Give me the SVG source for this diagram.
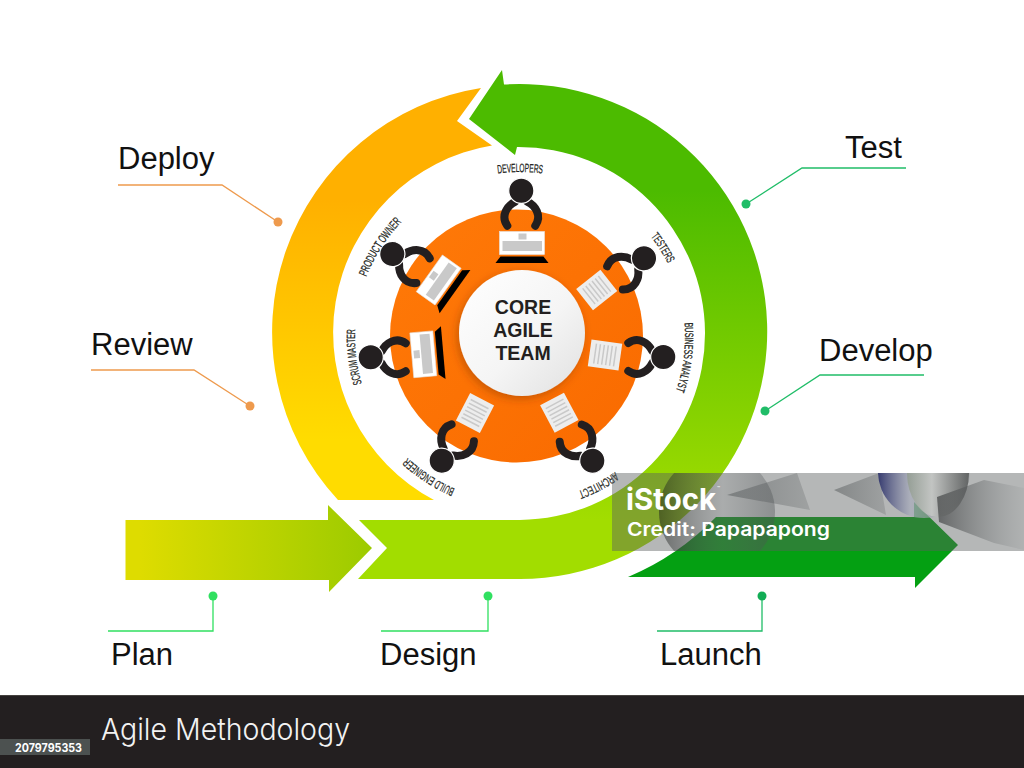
<svg xmlns="http://www.w3.org/2000/svg" width="1024" height="768" viewBox="0 0 1024 768">
<style>
.lbl{font-family:"Liberation Sans",Arial,sans-serif;font-size:31px;fill:#111}
.role{font-family:"Liberation Sans Narrow","Liberation Sans",Arial,sans-serif;font-size:12px;fill:#231f20;stroke:#231f20;stroke-width:.25}
.core{font-family:"Liberation Sans",Arial,sans-serif;font-weight:700;font-size:19.5px;fill:#231f20;text-anchor:middle}
.org{stroke:#ee9a4d;fill:none;stroke-width:1.3}
.grn{stroke:#20bd68;fill:none;stroke-width:1.3}
.lime{stroke:#30e060;fill:none;stroke-width:1.3}
.arm{fill:none;stroke:#231f20;stroke-width:8;stroke-linecap:round}
.ln{stroke:#c9c9c9;stroke-width:1.5}
</style>
<defs>
<linearGradient id="gGreen" gradientUnits="userSpaceOnUse" x1="0" y1="190" x2="0" y2="520"><stop offset="0" stop-color="#4cbb00"/><stop offset="1" stop-color="#a2dd00"/></linearGradient>
<linearGradient id="gYellow" gradientUnits="userSpaceOnUse" x1="0" y1="200" x2="0" y2="440"><stop offset="0" stop-color="#ffb000"/><stop offset="1" stop-color="#ffdc00"/></linearGradient>
<linearGradient id="gPlan" gradientUnits="userSpaceOnUse" x1="140" y1="0" x2="372" y2="0"><stop offset="0" stop-color="#dedc00"/><stop offset="1" stop-color="#9ccb00"/></linearGradient>
<linearGradient id="gCore" x1="0" y1="0" x2="1" y2="1"><stop offset="0" stop-color="#ffffff"/><stop offset="0.55" stop-color="#f5f5f5"/><stop offset="1" stop-color="#e0e0e0"/></linearGradient>
<linearGradient id="gDisc" x1="0" y1="0" x2="1" y2="1"><stop offset="0" stop-color="#ff7a08"/><stop offset="1" stop-color="#f96a00"/></linearGradient>
<linearGradient id="gWmL"><stop offset="0" stop-color="#1c1f1c" stop-opacity=".5"/><stop offset=".55" stop-color="#5a5e60" stop-opacity=".12"/><stop offset="1" stop-color="#4a4e50" stop-opacity=".38"/></linearGradient>
<linearGradient id="gBlue"><stop offset="0" stop-color="#30356c" stop-opacity=".95"/><stop offset=".35" stop-color="#a8acbc" stop-opacity=".7"/><stop offset="1" stop-color="#9a9ea0" stop-opacity=".4"/></linearGradient>
<linearGradient id="gSph"><stop offset="0" stop-color="#8f9a8c"/><stop offset=".4" stop-color="#c8cac6"/><stop offset="1" stop-color="#505252"/></linearGradient>
<linearGradient id="gPoly"><stop offset="0" stop-color="#404243" stop-opacity=".7"/><stop offset="1" stop-color="#808485" stop-opacity=".1"/></linearGradient>
<linearGradient id="gTri"><stop offset="0" stop-color="#5c6061" stop-opacity=".55"/><stop offset="1" stop-color="#5c6061" stop-opacity=".25"/></linearGradient>
<filter id="sh" x="-20%" y="-20%" width="140%" height="140%"><feDropShadow dx="-2" dy="3" stdDeviation="4" flood-color="#7a3000" flood-opacity=".4"/></filter>
<clipPath id="wmClip"><rect x="612" y="473" width="412" height="78"/></clipPath>
<g id="person"><path class="arm" d="M-6,11 C-14,15 -21,25 -14,35"/><path class="arm" d="M6,11 C14,15 21,25 14,35"/><circle cx="0" cy="0" r="12.6" fill="#231f20" stroke="#fff" stroke-width="1.2"/></g>
<g id="laptop"><rect x="-22.5" y="-11.5" width="45" height="23" fill="#fff" stroke="#e4e4e4" stroke-width=".6"/><rect x="-3.5" y="-9.5" width="8" height="6" fill="#c9c9c9"/><rect x="-19.5" y="-2" width="39.5" height="10" fill="#c9c9c9"/><path d="M-21.5,13.5 H21.5 L26.5,20 H-26.5 Z" fill="#000"/></g>
<g id="paper"><rect x="-13.5" y="-15.5" width="27" height="31" fill="#ededed"/><path class="ln" d="M-10,-10 H10 M-10,-6 H10 M-10,-2 H10 M-10,2 H10 M-10,6 H10 M-10,10 H10"/></g>
<path id="ring" d="M355,337 A165,165 0 1 1 685,337 A165,165 0 1 1 355,337 A165,165 0 1 1 685,337 A165,165 0 1 1 355,337"/>
</defs>
<rect width="1024" height="768" fill="#fff"/>
<g id="launch-arrow"><path d="M628,577 A268,268 0 0 0 716,517 L914,517 L914,502 L958,545 L915,588 L915,577 Z" fill="#04a012"/></g>
<g id="deploy-arc"><path d="M481,88 L457,121 L492,145.5 A189.5,189.5 0 0 0 434,500 L338,500 A247,247 0 0 1 481,88 Z" fill="url(#gYellow)"/></g>
<g id="design-test-arc"><path d="M469,119 L502,70 L504,84.5 A247.5,247.5 0 1 1 520,579 L358,579 L387,548 L359,520 L520,520 A186.5,186.5 0 1 0 517,147 L515,155 Z" fill="url(#gGreen)"/></g>
<g id="plan-arrow"><path d="M125.5,520 H328 V505 L372,548 L329,592 V580 H125.5 Z" fill="url(#gPlan)"/></g>
<g id="team-table"><circle cx="516.5" cy="336" r="126.5" fill="url(#gDisc)"/></g>
<g id="core"><circle cx="522" cy="333" r="63" fill="url(#gCore)" filter="url(#sh)"/>
<text class="core" x="523" y="313.5">CORE</text><text class="core" x="523" y="337">AGILE</text><text class="core" x="523" y="360">TEAM</text></g>
<g id="developers"><use href="#person" transform="translate(521.3,190.7)"/><use href="#laptop" transform="translate(522,243)"/><text class="role" text-anchor="middle" textLength="45" lengthAdjust="spacingAndGlyphs"><textPath href="#ring" startOffset="259.2">DEVELOPERS</textPath></text></g>
<g id="testers"><use href="#person" transform="translate(644,258.3) rotate(56)"/><use href="#paper" transform="translate(596.7,290) rotate(51.5)"/><text class="role" text-anchor="middle" textLength="32" lengthAdjust="spacingAndGlyphs"><textPath href="#ring" startOffset="426">TESTERS</textPath></text></g>
<g id="business-analyst"><use href="#person" transform="translate(663.3,357) rotate(90)"/><use href="#paper" transform="translate(605,355) rotate(98)"/><text class="role" text-anchor="middle" textLength="69" lengthAdjust="spacingAndGlyphs"><textPath href="#ring" startOffset="538.5">BUSINESS ANALYST</textPath></text></g>
<g id="architect"><use href="#person" transform="translate(592.3,460.7) rotate(142)"/><use href="#paper" transform="translate(559.3,412.7) rotate(152)"/><text class="role" text-anchor="middle" textLength="42" lengthAdjust="spacingAndGlyphs"><textPath href="#ring" startOffset="697">ARCHITECT</textPath></text></g>
<g id="build-engineer"><use href="#person" transform="translate(441.7,460.7) rotate(-143)"/><use href="#paper" transform="translate(475,413) rotate(-152.6)"/><text class="role" text-anchor="middle" textLength="57" lengthAdjust="spacingAndGlyphs"><textPath href="#ring" startOffset="872.5">BUILD ENGINEER</textPath></text></g>
<g id="scrum-master"><use href="#person" transform="translate(370.7,357.3) rotate(-90)"/><use href="#laptop" transform="translate(423.3,354.3) rotate(-95)"/><text class="role" text-anchor="middle" textLength="55" lengthAdjust="spacingAndGlyphs"><textPath href="#ring" startOffset="1016.5">SCRUM MASTER</textPath></text></g>
<g id="product-owner"><use href="#person" transform="translate(392.3,254) rotate(-61.5)"/><use href="#laptop" transform="translate(438.7,280) rotate(-54.5)"/><text class="role" text-anchor="middle" textLength="66" lengthAdjust="spacingAndGlyphs"><textPath href="#ring" startOffset="1130.6">PRODUCT OWNER</textPath></text></g>
<g id="connectors">
<path class="org" d="M118,185 H222 L278,222"/><circle cx="278" cy="222" r="4.5" fill="#ee9a4d"/>
<path class="org" d="M91,370 H194 L250,406"/><circle cx="250" cy="406" r="4.5" fill="#ee9a4d"/>
<path class="grn" d="M906,168 H802 L746,204"/><circle cx="746" cy="204" r="4.5" fill="#20bd68"/>
<path class="grn" d="M924,375 H820 L765,411"/><circle cx="765" cy="411" r="4.5" fill="#20bd68"/>
<path class="lime" d="M108,631 H213 V596"/><circle cx="213" cy="596" r="4.5" fill="#30e060"/>
<path class="lime" d="M381,631 H488 V596"/><circle cx="488" cy="596" r="4.5" fill="#30e060"/>
<path class="grn" d="M657,631 H762 V596"/><circle cx="762" cy="596" r="4.5" fill="#12ad55"/>
</g>
<g id="labels">
<text class="lbl" x="118" y="169">Deploy</text>
<text class="lbl" x="91" y="355">Review</text>
<text class="lbl" x="845" y="158">Test</text>
<text class="lbl" x="819" y="361">Develop</text>
<text class="lbl" x="111" y="665">Plan</text>
<text class="lbl" x="380" y="665">Design</text>
<text class="lbl" x="660" y="665">Launch</text>
</g>
<g id="watermark">
<g clip-path="url(#wmClip)">
<rect x="612" y="473" width="412" height="78" fill="#5a5f60" fill-opacity=".45"/>
<path d="M727,495 L797,473 L810,510 Z" fill="url(#gTri)"/>
<path d="M834,490 L879,473 L886,515 Z" fill="url(#gTri)"/>
<circle cx="717" cy="512" r="58" fill="url(#gWmL)"/>
<circle cx="924" cy="472" r="46" fill="url(#gBlue)"/>
<ellipse cx="938" cy="473" rx="31" ry="44" fill="url(#gSph)" fill-opacity=".8"/>
<path d="M937,497 L984,480 L1024,488 V550 L994,543 L939,522 Z" fill="url(#gPoly)"/>
</g>
<text x="626" y="510" font-family="Inter,'Open Sans',sans-serif" font-weight="700" font-size="30" fill="#fff" textLength="90" lengthAdjust="spacingAndGlyphs">iStock</text>
<text x="717" y="490" font-family="Inter,sans-serif" font-size="5" fill="#fff">™</text>
<text x="627" y="536" font-family="Inter,'Open Sans',sans-serif" font-weight="600" font-size="18.5" fill="#fff" textLength="203" lengthAdjust="spacingAndGlyphs">Credit: Papapapong</text>
</g>
<g id="footer">
<rect x="0" y="695" width="1024" height="73" fill="#231f20"/>
<rect x="0" y="695" width="1024" height="1" fill="#45423f"/>
<text x="101" y="740" font-family="Inter,'Open Sans',sans-serif" font-weight="300" font-size="30" fill="#f2f2f2" textLength="249" lengthAdjust="spacingAndGlyphs">Agile Methodology</text>
<rect x="0" y="739" width="90" height="16" fill="#4c5150"/>
<text x="15" y="752" font-family="Inter,'Open Sans',sans-serif" font-weight="700" font-size="11.5" fill="#fff" textLength="67" lengthAdjust="spacingAndGlyphs">2079795353</text>
</g>
</svg>
